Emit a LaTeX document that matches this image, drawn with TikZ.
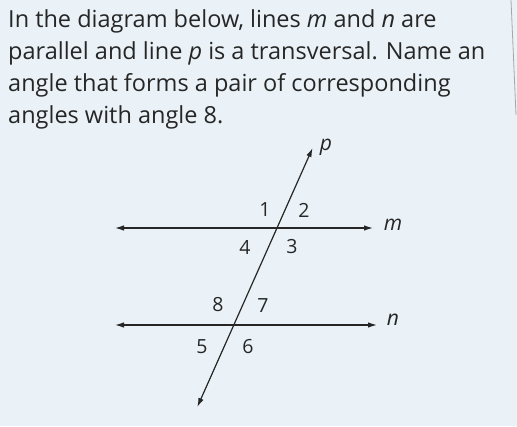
\documentclass[tikz,border=0pt]{standalone}
\usepackage{fontspec}
\setmainfont{Open Sans}
\usepackage{tikz}
\usetikzlibrary{arrows.meta}
\usetikzlibrary{positioning}
\definecolor{paper}{HTML}{EAF2F7}
\definecolor{ink}{HTML}{262626}

\begin{document}
\begin{tikzpicture}[x=1pt, y=-1pt, >={Latex[length=9pt,width=5.5pt]},
    question/.style={anchor=base west, inner sep=0pt, text=ink, font=\fontsize{23.5}{32}\selectfont},
    angle/.style={inner sep=0pt, text=ink, font=\fontsize{19.5}{19.5}\selectfont},
    linename/.style={angle, font=\fontsize{21}{21}\selectfont\itshape},
    ray/.style={line width=1.2pt, ink}]
        \fill[paper] (0,0) rectangle (517,426);
        \useasboundingbox (0,0) rectangle (517,426);
        \draw[gray!70, line width=0.8pt] (511,0) -- (516,115);
        %question
        \node[question] (q1) at (8,27){In the diagram below, lines \textit{m} and \textit{n} are};
        \node[question] (q2) at (8,59){parallel and line \textit{p} is a transversal. Name an};
        \node[question] (q3) at (8,91){angle that forms a pair of corresponding};
        \node[question] (q4) at (8,123){angles with angle 8.};
        %lines
        \coordinate (mL) at (115,228);
        \coordinate (mR) at (373,228);
        \coordinate (nL) at (115,325);
        \coordinate (nR) at (377,325);
        \coordinate (pT) at (312.6,148);
        \coordinate (pB) at (197.3,407);
        \draw[ray, <->] (mL) -- (mR);
        \draw[ray, <->] (nL) -- (nR);
        \draw[ray, <->] (pB) -- (pT);
        %line names
        \node[linename] (p) at (326,147){p};
        \node[linename] (m) at (393,225){m};
        \node[linename] (n) at (393,320){n};
        %angles
        \node[angle] (1) at (265,210){1};
        \node[angle] (2) at (304,210){2};
        \node[angle] (4) at (245,247){4};
        \node[angle] (3) at (292,247){3};
        \node[angle] (8) at (218,305){8};
        \node[angle] (7) at (263,306){7};
        \node[angle] (5) at (202,347){5};
        \node[angle] (6) at (248,347){6};
    \end{tikzpicture}
\end{document}
